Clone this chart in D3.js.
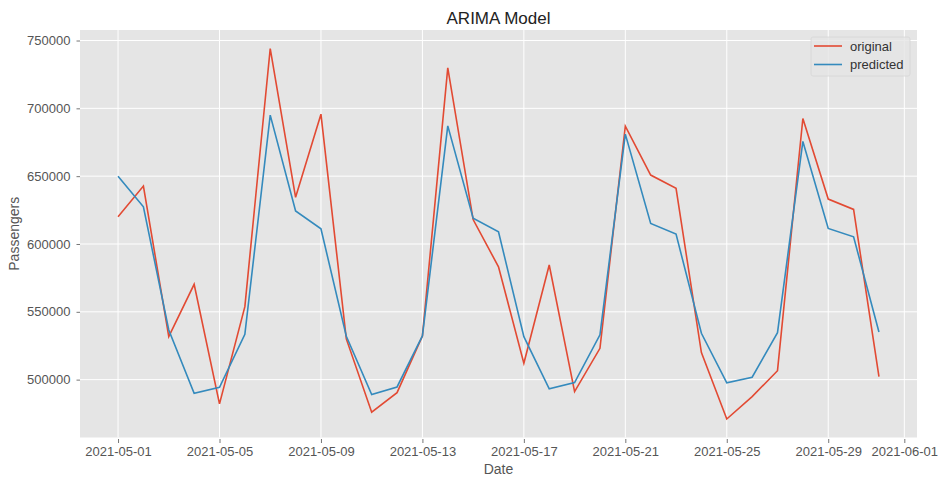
<!DOCTYPE html>
<html>
<head>
<meta charset="utf-8">
<script src="https://cdn.jsdelivr.net/npm/d3@7"></script>
<style>
	body { margin: 0; background: #fff; }
	text { font-family: "Liberation Sans", Arial, sans-serif; }
	.tick text { fill: #555; font-size: 13px; }
	.tick line { stroke: #777; }
</style>
</head>
<body>
<script>
// Data
var dates = ["2021-05-01","2021-05-02","2021-05-03","2021-05-04","2021-05-05","2021-05-06","2021-05-07","2021-05-08",
	"2021-05-09","2021-05-10","2021-05-11","2021-05-12","2021-05-13","2021-05-14","2021-05-15","2021-05-16",
	"2021-05-17","2021-05-18","2021-05-19","2021-05-20","2021-05-21","2021-05-22","2021-05-23","2021-05-24",
	"2021-05-25","2021-05-26","2021-05-27","2021-05-28","2021-05-29","2021-05-30","2021-05-31"];

var original = [620000, 642700, 531700, 570300, 482100, 553800, 744100, 634400,
	695700, 530000, 476000, 490400, 532200, 729800, 618000, 583200,
	512100, 584500, 491200, 523100, 686900, 650800, 641000, 519900,
	471000, 487500, 506600, 692500, 633100, 625500, 502200];

var predicted = [650000, 627400, 536600, 490000, 494400, 533400, 695000, 624300,
	611200, 532000, 489000, 494600, 532200, 687100, 619000, 609000,
	531700, 493200, 497800, 533000, 681000, 615200, 607300, 534200,
	497600, 501800, 534600, 675600, 611500, 605300, 535100];

var xTicks = ["2021-05-01","2021-05-05","2021-05-09","2021-05-13","2021-05-17","2021-05-21","2021-05-25","2021-05-29","2021-06-01"];
var yTicks = [500000, 550000, 600000, 650000, 700000, 750000];

var series = [
	{name: "original", values: original, color: "#E24A33"},
	{name: "predicted", values: predicted, color: "#348ABD"}
];

var width = 950, height = 482;
var mLeft = 80, mRight = 917, mTop = 30, mBottom = 437.5;

var svg = d3.select("body").append("svg").attr("width", width).attr("height", height);

var parse = d3.utcParse("%Y-%m-%d");
var t = dates.map(parse);

// Scales with 5% margins like matplotlib
var t0 = +t[0], t1 = +t[t.length - 1];
var tm = (t1 - t0) * 0.05;
var x = d3.scaleUtc().domain([new Date(t0 - tm), new Date(t1 + tm)]).range([mLeft, mRight]);

var all = original.concat(predicted);
var vmin = d3.min(all), vmax = d3.max(all);
var vm = (vmax - vmin) * 0.05;
var y = d3.scaleLinear().domain([vmin - vm, vmax + vm]).range([mBottom, mTop]);

// Background
svg.append("rect").attr("x", mLeft).attr("y", mTop).attr("width", mRight - mLeft).attr("height", mBottom - mTop).attr("fill", "#E5E5E5");

// Grid
svg.selectAll(".gx").data(xTicks).enter().append("line")
	.attr("x1", function(d) { return x(parse(d)); }).attr("x2", function(d) { return x(parse(d)); })
	.attr("y1", mTop).attr("y2", mBottom).attr("stroke", "#fff").attr("stroke-width", 1);
svg.selectAll(".gy").data(yTicks).enter().append("line")
	.attr("x1", mLeft).attr("x2", mRight)
	.attr("y1", function(d) { return y(d); }).attr("y2", function(d) { return y(d); })
	.attr("stroke", "#fff").attr("stroke-width", 1);

// Axes
var xAxis = d3.axisBottom(x).tickValues(xTicks.map(parse)).tickFormat(d3.utcFormat("%Y-%m-%d")).tickSize(4).tickPadding(4);
svg.append("g").attr("transform", "translate(0," + (mBottom + 1.5) + ")").call(xAxis)
	.call(function(g) { g.select(".domain").remove(); });

var yAxis = d3.axisLeft(y).tickValues(yTicks).tickFormat(d3.format("d")).tickSize(3.5).tickPadding(6);
svg.append("g").attr("transform", "translate(" + mLeft + ",0)").call(yAxis)
	.call(function(g) { g.select(".domain").remove(); });

// Lines
var line = d3.line().x(function(d, i) { return x(t[i]); }).y(function(d) { return y(d); });
svg.selectAll(".series").data(series).enter().append("path")
	.attr("d", function(d) { return line(d.values); })
	.attr("fill", "none").attr("stroke", function(d) { return d.color; })
	.attr("stroke-width", 1.6).attr("stroke-linejoin", "miter");

// Titles
svg.append("text").attr("x", (mLeft + mRight) / 2).attr("y", 24).attr("text-anchor", "middle")
	.attr("font-size", "17px").attr("fill", "#222").text("ARIMA Model");
svg.append("text").attr("x", (mLeft + mRight) / 2).attr("y", 474).attr("text-anchor", "middle")
	.attr("font-size", "14px").attr("fill", "#555").text("Date");
svg.append("text").attr("transform", "translate(19," + ((mTop + mBottom) / 2) + ") rotate(-90)")
	.attr("text-anchor", "middle").attr("font-size", "14px").attr("fill", "#555").text("Passengers");

// Legend
var lg = svg.append("g").attr("transform", "translate(811,37)");
lg.append("rect").attr("width", 99).attr("height", 39).attr("rx", 2)
	.attr("fill", "#E5E5E5").attr("fill-opacity", 0.8).attr("stroke", "#d6d6d6").attr("stroke-width", 0.8);
lg.selectAll(".li").data(series).enter().append("line")
	.attr("x1", 3).attr("x2", 31)
	.attr("y1", function(d, i) { return 9 + i * 18.5; }).attr("y2", function(d, i) { return 9 + i * 18.5; })
	.attr("stroke", function(d) { return d.color; }).attr("stroke-width", 1.6);
lg.selectAll(".lt").data(series).enter().append("text")
	.attr("x", 39).attr("y", function(d, i) { return 13.5 + i * 18.5; })
	.attr("font-size", "13px").attr("fill", "#333").text(function(d) { return d.name; });
</script>
</body>
</html>
